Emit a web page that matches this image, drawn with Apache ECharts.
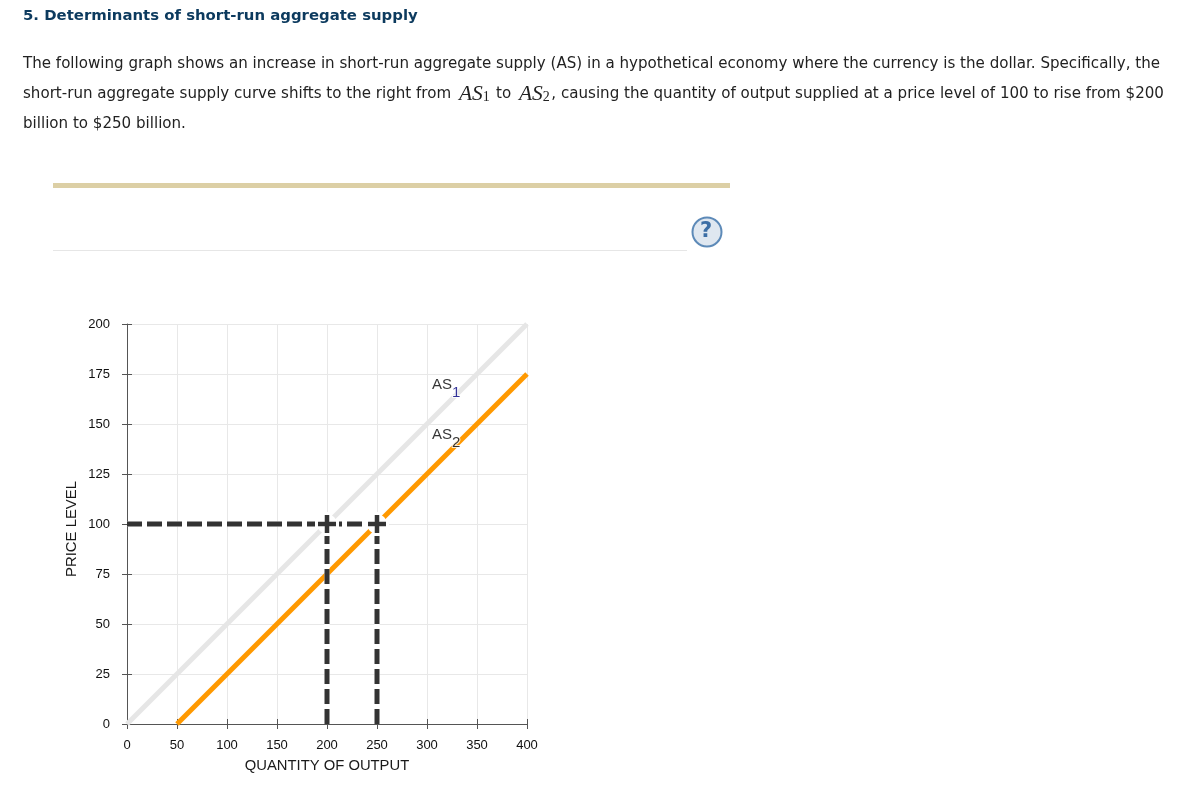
<!DOCTYPE html>
<html><head><meta charset="utf-8">
<style>html,body{margin:0;padding:0;background:#fff}#c{width:1181px;height:786px}</style>
<script src="https://cdn.jsdelivr.net/npm/echarts@6/dist/echarts.min.js"></script>
</head><body><div id="c"></div>
<script>
const xTicks = [0,50,100,150,200,250,300,350,400];
const yTicks = [0,25,50,75,100,125,150,175,200];
const as1 = [[0,0],[400,200]];
const as2 = [[50,0],[400,175]];
const guideH = [[0,100],[250,100]];
const guideV1 = [[200,0],[200,100]];
const guideV2 = [[250,0],[250,100]];
const crossPts = [[200,100],[250,100]];
const curveLabels = [[305,167.5,'{a|AS}{s|1}'],[305,142.5,'{a|AS}{t|2}']];
const titleText = '5. Determinants of short-run aggregate supply';
const para1 = 'The following graph shows an increase in short-run aggregate supply (AS) in a hypothetical economy where the currency is the dollar. Specifically, the';
const para2 = 'short-run aggregate supply curve shifts to the right from {m|AS}{s|1} to {m|AS}{s|2}, causing the quantity of output supplied at a price level of 100 to rise from $200';
const para3 = 'billion to $250 billion.';
const xName = 'QUANTITY OF OUTPUT', yName = 'PRICE LEVEL';

const chart = echarts.init(document.getElementById('c'), null, {renderer:'canvas', width:1181, height:786});
const AX = 'Liberation Sans';
const plus = 'path://M-0.25 -1H0.25V-0.25H1V0.25H0.25V1H-0.25V0.25H-1V-0.25H-0.25Z';
const plusHalo = 'path://M-0.34 -1H0.34V-0.34H1V0.34H0.34V1H-0.34V0.34H-1V-0.34H-0.34Z';
const bodyFont = {fontFamily:'DejaVu Sans', fontSize:15.09, fill:'#222'};
const lineSeries = (name,data,color,width,dash,z) => ({name,type:'line',data,symbol:'none',silent:true,z,
  lineStyle:{color,width,type:dash||'solid',cap:'butt'},animation:false});
chart.setOption({
  animation:false,
  backgroundColor:'#fff',
  grid:{left:127,top:324,width:400,height:400,containLabel:false},
  xAxis:[
    {type:'value',min:0,max:400,interval:50,position:'bottom',
     name:xName,nameLocation:'middle',nameGap:34,nameTextStyle:{fontFamily:AX,fontSize:14.8,color:'#1a1a1a'},
     axisLine:{show:true,onZero:false,lineStyle:{color:'#555',width:1}},
     axisTick:{show:true,length:5,lineStyle:{color:'#555'}},
     axisLabel:{fontFamily:AX,fontSize:13,color:'#111',margin:15,showMinLabel:true,showMaxLabel:true,hideOverlap:false},
     splitLine:{show:true,lineStyle:{color:'#e8e8e8',width:1}}},
    {type:'value',min:0,max:400,interval:50,position:'bottom',
     axisLine:{show:false,onZero:false},axisTick:{show:true,inside:true,length:5,lineStyle:{color:'#555'}},
     axisLabel:{show:false},splitLine:{show:false}}
  ],
  yAxis:[
    {type:'value',min:0,max:200,interval:25,position:'left',
     name:yName,nameLocation:'middle',nameGap:48,nameRotate:90,nameTextStyle:{fontFamily:AX,fontSize:14.9,color:'#1a1a1a',padding:[0,10,0,0]},
     axisLine:{show:true,onZero:false,lineStyle:{color:'#555',width:1}},
     axisTick:{show:true,length:5,lineStyle:{color:'#555'}},
     axisLabel:{fontFamily:AX,fontSize:13,color:'#111',margin:17,showMinLabel:true,showMaxLabel:true,hideOverlap:false},
     splitLine:{show:true,lineStyle:{color:'#e8e8e8',width:1}}},
    {type:'value',min:0,max:200,interval:25,position:'left',
     axisLine:{show:false,onZero:false},axisTick:{show:true,inside:true,length:5,lineStyle:{color:'#555'}},
     axisLabel:{show:false},splitLine:{show:false}}
  ],
  series:[
    lineSeries('AS1',as1,'#e6e6e6',5,null,2),
    lineSeries('AS2',as2,'#ff9900',5,null,3),
    lineSeries('halo h',guideH,'#ffffff',5,null,4),
    lineSeries('halo v1',guideV1,'#ffffff',5,null,4),
    lineSeries('halo v2',guideV2,'#ffffff',5,null,4),
    {name:'cross halo',type:'scatter',data:crossPts,symbol:'circle',symbolSize:20,silent:true,z:5,
     itemStyle:{color:'#fff',opacity:1}},
    lineSeries('guide h',guideH,'#333333',5,[15,5],6),
    lineSeries('guide v1',guideV1,'#333333',5,[15,5],6),
    lineSeries('guide v2',guideV2,'#333333',5,[15,5],6),
    {name:'cross white',type:'scatter',data:crossPts,symbol:plusHalo,symbolSize:24,silent:true,z:7,
     itemStyle:{color:'#fff',opacity:1}},
    {name:'cross',type:'scatter',data:crossPts,symbol:plus,symbolSize:18,silent:true,z:8,
     itemStyle:{color:'#333333',opacity:1}},
    {name:'labels',type:'scatter',data:curveLabels,symbol:'circle',symbolSize:0,silent:true,z:9,
     label:{show:true,position:'right',distance:0,formatter:p=>p.data[2],
       rich:{a:{fontFamily:AX,fontSize:15,color:'#000',lineHeight:15,verticalAlign:'top'},
             s:{fontFamily:AX,fontSize:15,color:'#000080',padding:[8,0,0,0],verticalAlign:'bottom',textBorderColor:'#fff',textBorderWidth:2},
             t:{fontFamily:AX,fontSize:15,color:'#000',padding:[8,0,0,0],verticalAlign:'bottom',textBorderColor:'#fff',textBorderWidth:2}}}}
  ],
  graphic:[
    {type:'text',left:23,top:9,silent:true,style:{text:titleText,fontFamily:'DejaVu Sans',fontWeight:'bold',fontSize:14.9,fill:'#0c3a5e'}},
    {type:'text',left:23,top:57,silent:true,style:Object.assign({text:para1},bodyFont)},
    {type:'text',left:23,top:83,silent:true,style:Object.assign({text:para2,rich:{
       m:{fontFamily:'Liberation Serif',fontStyle:'italic',fontSize:21.5,fill:'#222',padding:[0,0,0,3]},
       s:{fontFamily:'Liberation Serif',fontSize:14,fill:'#222',padding:[7,1.5,0,0]}}},bodyFont)},
    {type:'text',left:23,top:117,silent:true,style:Object.assign({text:para3},bodyFont)},
    {type:'rect',silent:true,shape:{x:53,y:183,width:677,height:5},style:{fill:'#dccfa5'}},
    {type:'rect',silent:true,shape:{x:53,y:250,width:634,height:1},style:{fill:'#e6e6e6'}},
    {type:'circle',silent:true,shape:{cx:707,cy:232,r:14.5},style:{fill:'#dfe7f0',stroke:'#5d8ab8',lineWidth:2}},
    {type:'text',silent:true,left:700,top:221,style:{text:'?',fontFamily:'DejaVu Sans',fontWeight:'bold',fontSize:21,fill:'#3c6ea5'}}
  ]
});
</script></body></html>
